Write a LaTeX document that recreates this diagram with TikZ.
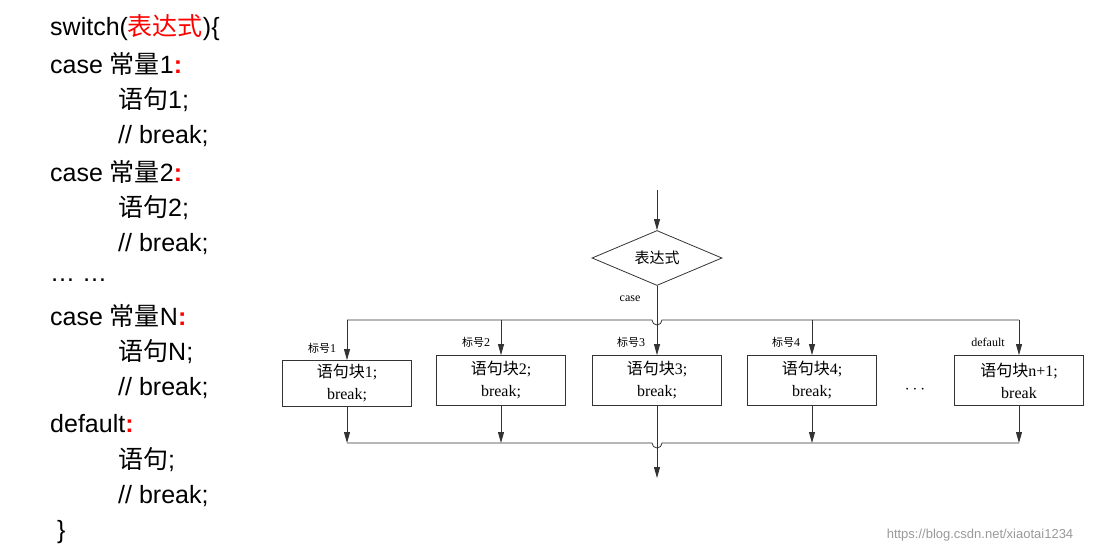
\documentclass[tikz,border=0pt]{standalone}
\usepackage{fontspec}
\setmainfont{Liberation Sans}
\newfontfamily\cjk{Noto Sans CJK SC}
\newfontfamily\serif{Liberation Serif}
\usetikzlibrary{arrows.meta,positioning,shapes.geometric}
\newcommand{\redcolon}{\textcolor{red}{\textbf{:}}}
\begin{document}
\begin{tikzpicture}[x=1pt,y=-1pt,
code/.style={anchor=west, inner sep=0, font=\fontsize{25}{30}\selectfont},
blk/.style={draw=black!80, thick, minimum width=129, minimum height=50, align=center, inner sep=1, font=\serif\fontsize{16}{22}\selectfont},
lbl/.style={font=\serif\fontsize{12}{14}\selectfont, inner sep=1},
arr/.style={-{Triangle[length=11,width=6]}, thick, draw=black!80},
ln/.style={thick, draw=black!80}
]
\useasboundingbox (0,0) rectangle (1098,552);
%Code
\node[code] (c1)  at (50,28)  {switch(\textcolor{red}{\cjk 表达式})\{};
\node[code] (c2)  at (50,64)  {case {\cjk 常量}1\redcolon};
\node[code] (c3)  at (118,100) {{\cjk 语句}1;};
\node[code] (c4)  at (118,136) {// break;};
\node[code] (c5)  at (50,172) {case {\cjk 常量}2\redcolon};
\node[code] (c6)  at (118,208) {{\cjk 语句}2;};
\node[code] (c7)  at (118,244) {// break;};
\node[code] (c8)  at (50,280) {\dots\ \dots};
\node[code] (c9)  at (50,316) {case {\cjk 常量}N\redcolon};
\node[code] (c10) at (118,352) {{\cjk 语句}N;};
\node[code] (c11) at (118,388) {// break;};
\node[code] (c12) at (50,424) {default\redcolon};
\node[code] (c13) at (118,460) {{\cjk 语句};};
\node[code] (c14) at (118,496) {// break;};
\node[code] (c15) at (57,532) {\}};
%Flowchart
\coordinate (in) at (657,190);
\node[draw=black!80, thick, shape=diamond, aspect=2.4, minimum width=130, minimum height=55, inner sep=0, font=\cjk\fontsize{15}{18}\selectfont]
      (expr) at (657,258) {表达式};
\node[lbl] (case) at (630,299) {case};
\node[blk] (b1) at (347,383.5) [minimum height=46] {{\cjk 语句块}1;\\break;};
\node[blk] (b2) at (501,380.5) {{\cjk 语句块}2;\\break;};
\node[blk] (b3) at (657,380.5) {{\cjk 语句块}3;\\break;};
\node[blk] (b4) at (812,380.5) {{\cjk 语句块}4;\\break;};
\node[blk] (b5) at (1019,380.5) {{\cjk 语句块}n+1;\\break};
\node[lbl] (l1) at (322,348) {{\cjk\fontsize{11}{13}\selectfont 标号}1};
\node[lbl] (l2) at (476,342) {{\cjk\fontsize{11}{13}\selectfont 标号}2};
\node[lbl] (l3) at (631,342) {{\cjk\fontsize{11}{13}\selectfont 标号}3};
\node[lbl] (l4) at (786,342) {{\cjk\fontsize{11}{13}\selectfont 标号}4};
\node[lbl] (l5) at (988,342) {default};
\node[lbl, font=\fontsize{16}{18}\selectfont] (dots) at (915,390) {$\cdots$};
\node[text=black!40, font=\fontsize{13}{15}\selectfont] (url) at (980,535) {https://blog.csdn.net/xiaotai1234};
\coordinate (tl) at (347,320);
\coordinate (tr) at (1019,320);
\coordinate (bl) at (347,443);
\coordinate (br) at (1019,443);
\coordinate (out) at (657,478);
%Lines
\draw[arr] (in) -- (expr);
\draw[ln] (tl) -- (652,320) arc[start angle=180, end angle=0, radius=5] -- (tr);
\draw[ln] (bl) -- (652,443) arc[start angle=180, end angle=0, radius=5] -- (br);
\draw[arr] (expr.south) -- (b3.north);
\foreach \b/\x in {b1/347, b2/501, b4/812, b5/1019}
  \draw[arr] (\x,320) -- (\b.north);
\foreach \b/\x in {b1/347, b2/501, b4/812, b5/1019}
  \draw[arr] (\b.south) -- (\x,443);
\draw[arr] (b3.south) -- (out);
\end{tikzpicture}
\end{document}
